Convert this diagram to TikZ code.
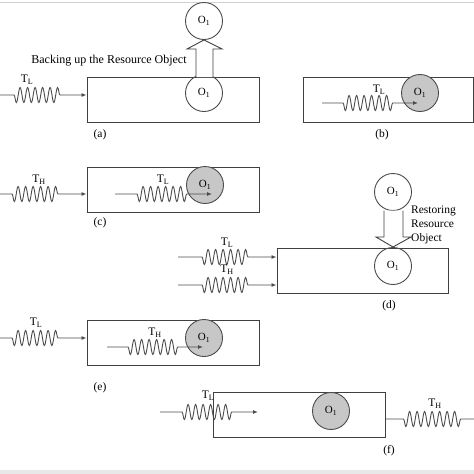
\documentclass[tikz,border=0pt]{standalone}
\usepackage{fontspec}
\setmainfont{Liberation Serif}
\usetikzlibrary{decorations.pathmorphing,arrows.meta,calc}
\begin{document}
\begin{tikzpicture}[x=1pt,y=-1pt,
  box/.style={draw=black!75, line width=1pt, minimum width=#1, minimum height=45pt, inner sep=0pt},
  obj/.style={circle, draw=black!70, line width=0.9pt, minimum size=37pt, inner sep=0pt, font=\fontsize{11}{12}\selectfont},
  held/.style={obj, fill=black!22},
  wavy/.style={draw=black!70, line width=0.9pt, decorate, decoration={snake, amplitude=7.5pt, segment length=7.5pt, mirror}},
  tip/.style={-{Latex[length=5pt,width=4pt]}},
  lbl/.style={font=\fontsize{11.5}{14}\selectfont, inner sep=0pt},
  hollow/.style={draw=black!75, line width=0.9pt, fill=white}
]
\useasboundingbox (0,0) rectangle (474,474);
\draw[black!18, line width=1pt] (0,2.5) -- (474,2.5);
\fill[black!9] (0,470) rectangle (474,474);

% (a)
\node[box=172pt] (ra) at (173,99.5) {};
\node[obj] (oa) at (204,93) {O\textsubscript{1}};
\node[obj] (oat) at (204,21) {O\textsubscript{1}};
\draw[hollow] (196,77) -- (196,49) -- (187,49) -- (oat.south) -- (222,49) -- (213,49) -- (213,77);
\node[lbl, font=\fontsize{12}{14}\selectfont] (bk) at (109,61) {Backing up the Resource Object};
\coordinate (wa0) at (0,95);
\draw[wavy, tip, decoration={pre length=14pt, post length=25pt}] (wa0) -- (ra.west |- wa0);
\node[lbl] (tla) at (27,80) {T\textsubscript{L}};
\node[lbl] (cap-a) at (100,135) {(a)};

% (b)
\node[box=170.5pt] (rb) at (388.25,99.5) {};
\node[held] (ob) at (420,93) {O\textsubscript{1}};
\coordinate (wb0) at (322,103);
\coordinate (wb1) at (418,103);
\draw[wavy, tip, decoration={pre length=21pt, post length=23pt}] (wb0) -- (wb1);
\node[lbl] (tlb) at (379,90) {T\textsubscript{L}};
\node[lbl] (cap-b) at (382,135) {(b)};

% (c)
\node[box=172pt] (rc) at (173,189.5) {};
\node[held] (oc) at (205,185) {O\textsubscript{1}};
\coordinate (wc0) at (0,194);
\draw[wavy, tip, decoration={pre length=12pt, post length=25pt}] (wc0) -- (rc.west |- wc0);
\node[lbl] (thc) at (39,180) {T\textsubscript{H}};
\coordinate (wc2) at (115,194);
\coordinate (wc3) at (212,194);
\draw[wavy, tip, decoration={pre length=22pt, post length=25pt}] (wc2) -- (wc3);
\node[lbl] (tlc) at (163,180) {T\textsubscript{L}};
\node[lbl] (cap-c) at (100,223) {(c)};

% (d)
\node[box=171pt] (rd) at (362.5,270.5) {};
\node[obj] (od) at (393,266) {O\textsubscript{1}};
\node[obj] (odt) at (393,192) {O\textsubscript{1}};
\draw[hollow] (384,210.5) -- (384,237) -- (376,237) -- (393,247) -- (411,237) -- (403,237) -- (403,210.5);
\node[lbl, align=left, anchor=north west] (rs) at (411,206) {Restoring\\Resource\\Object};
\coordinate (wd0) at (178,257);
\draw[wavy, tip, decoration={pre length=24pt, post length=27pt}] (wd0) -- (rd.west |- wd0);
\node[lbl] (tld) at (227,243) {T\textsubscript{L}};
\coordinate (wd2) at (178,285);
\draw[wavy, tip, decoration={pre length=24pt, post length=27pt}] (wd2) -- (rd.west |- wd2);
\node[lbl] (thd) at (227,270) {T\textsubscript{H}};
\node[lbl] (cap-d) at (389,306) {(d)};

% (e)
\node[box=172pt] (re) at (173,342.5) {};
\node[held] (oe) at (204,338) {O\textsubscript{1}};
\coordinate (we0) at (0,338);
\draw[wavy, tip, decoration={pre length=12pt, post length=25pt}] (we0) -- (re.west |- we0);
\node[lbl] (tle) at (36,323) {T\textsubscript{L}};
\coordinate (we2) at (107,347);
\coordinate (we3) at (203,347);
\draw[wavy, tip, decoration={pre length=21pt, post length=23pt}] (we2) -- (we3);
\node[lbl] (the) at (155,333) {T\textsubscript{H}};
\node[lbl] (cap-e) at (100,388) {(e)};

% (f)
\node[box=172pt] (rf) at (299,414.5) {};
\node[held] (of) at (331,411) {O\textsubscript{1}};
\coordinate (wf0) at (160,412);
\coordinate (wf1) at (258,412);
\draw[wavy, tip, decoration={pre length=22pt, post length=23pt}] (wf0) -- (wf1);
\node[lbl] (tlf) at (208,396) {T\textsubscript{L}};
\coordinate (wf3) at (474,419);
\draw[wavy, decoration={pre length=18pt, post length=12pt}] (rf.east |- wf3) -- (wf3);
\node[lbl] (thf) at (435,404) {T\textsubscript{H}};
\node[lbl] (cap-f) at (389,451) {(f)};
\end{tikzpicture}
\end{document}
